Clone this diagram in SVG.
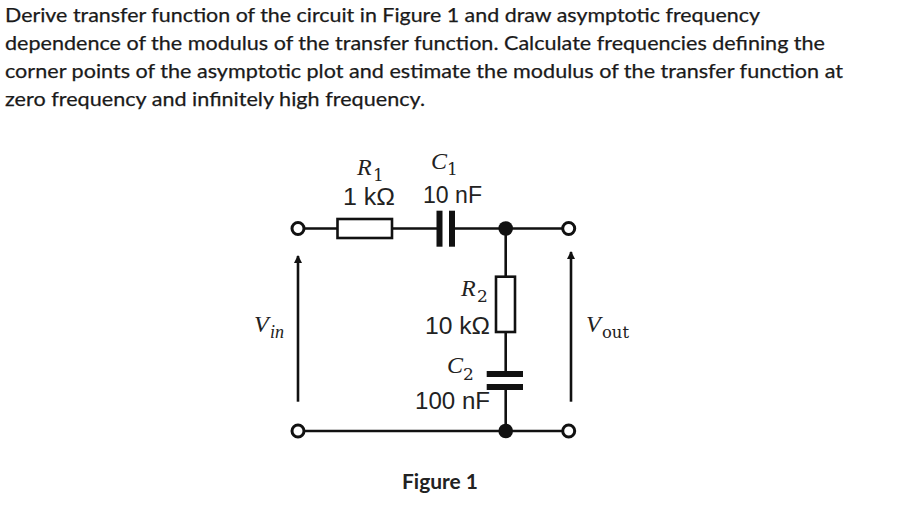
<svg xmlns="http://www.w3.org/2000/svg" width="897" height="517" viewBox="0 0 897 517">
<style>
.h{font:20px Lato,"Open Sans",sans-serif;fill:#1a1a1a;stroke:#1a1a1a;stroke-width:.25}
.v{font:23px "Liberation Sans",Arial,sans-serif;fill:#222}
.m{font:italic 24px "Liberation Serif",serif;fill:#222}
.s{font:17px "DejaVu Serif","Liberation Serif",serif;fill:#222}
.si{font:italic 18px "Liberation Serif",serif;fill:#222}
.w{fill:none;stroke:#111;stroke-width:2.6}
.b{fill:#fff;stroke:#111;stroke-width:2.6}
.t{fill:#fff;stroke:#111;stroke-width:3}
.p{fill:#111}
</style>
<defs><marker id="a" markerWidth="9" markerHeight="9" refX="7" refY="4" orient="auto" markerUnits="userSpaceOnUse"><path d="M0 0L8 4L0 8Z" fill="#111"/></marker></defs>
<g id="problem-text">
<text class="h" x="5" y="22" textLength="755" lengthAdjust="spacingAndGlyphs">Derive transfer function of the circuit in Figure 1 and draw asymptotic frequency</text>
<text class="h" x="5" y="50" textLength="820" lengthAdjust="spacingAndGlyphs">dependence of the modulus of the transfer function. Calculate frequencies defining the</text>
<text class="h" x="5" y="78" textLength="838" lengthAdjust="spacingAndGlyphs">corner points of the asymptotic plot and estimate the modulus of the transfer function at</text>
<text class="h" x="5" y="106" textLength="420" lengthAdjust="spacingAndGlyphs">zero frequency and infinitely high frequency.</text>
</g>
<g id="connectors">
<path class="w" d="M304 228.500H337.500M392 228.500H442M449 228.500H563M505.700 228.500V276.700M505.700 332V374M505.700 387V431M304 431H563"/>
<path class="w" d="M298 401.700V256" marker-end="url(#a)"/>
<path class="w" d="M571 401.700V252" marker-end="url(#a)"/>
</g>
<g id="R1"><rect class="b" x="337.500" y="219" width="54.500" height="19"/>
<text class="m" x="357" y="175">R</text><text class="s" x="373" y="181">1</text>
<text class="v" x="343" y="205" textLength="52" lengthAdjust="spacingAndGlyphs">1 kΩ</text></g>
<g id="C1"><rect class="p" x="436.500" y="210.700" width="6" height="36"/><rect class="p" x="449" y="210.700" width="6" height="36"/>
<text class="m" x="431" y="169">C</text><text class="s" x="447" y="175">1</text>
<text class="v" x="423" y="203" textLength="59" lengthAdjust="spacingAndGlyphs">10 nF</text></g>
<g id="R2"><rect class="b" x="496" y="276.700" width="19" height="55.300"/>
<text class="m" x="461" y="296">R</text><text class="s" x="477" y="302">2</text>
<text class="v" x="425" y="334" textLength="65" lengthAdjust="spacingAndGlyphs">10 kΩ</text></g>
<g id="C2"><rect class="p" x="486.700" y="371" width="36.300" height="6"/><rect class="p" x="486.700" y="384" width="36.300" height="6"/>
<text class="m" x="447" y="373">C</text><text class="s" x="463" y="380">2</text>
<text class="v" x="415" y="409" textLength="75" lengthAdjust="spacingAndGlyphs">100 nF</text></g>
<g id="node-top"><circle class="p" cx="505.700" cy="228.500" r="7.300"/></g>
<g id="node-bottom"><circle class="p" cx="505.700" cy="431" r="7.300"/></g>
<g id="terminal-in-top"><circle class="t" cx="298" cy="228.500" r="6"/></g>
<g id="terminal-in-bottom"><circle class="t" cx="298" cy="431" r="6"/></g>
<g id="terminal-out-top"><circle class="t" cx="568.700" cy="228.500" r="6"/></g>
<g id="terminal-out-bottom"><circle class="t" cx="568.700" cy="431" r="6"/></g>
<g id="Vin"><text class="m" x="254" y="332">V</text><text class="si" x="270" y="338">in</text></g>
<g id="Vout"><text class="m" x="586" y="332">V</text><text class="s" x="602" y="338" textLength="27" lengthAdjust="spacingAndGlyphs">out</text></g>
<g id="caption"><text x="402" y="489" style="font:bold 20px Lato,sans-serif;fill:#222" textLength="76" lengthAdjust="spacingAndGlyphs">Figure 1</text></g>
</svg>
